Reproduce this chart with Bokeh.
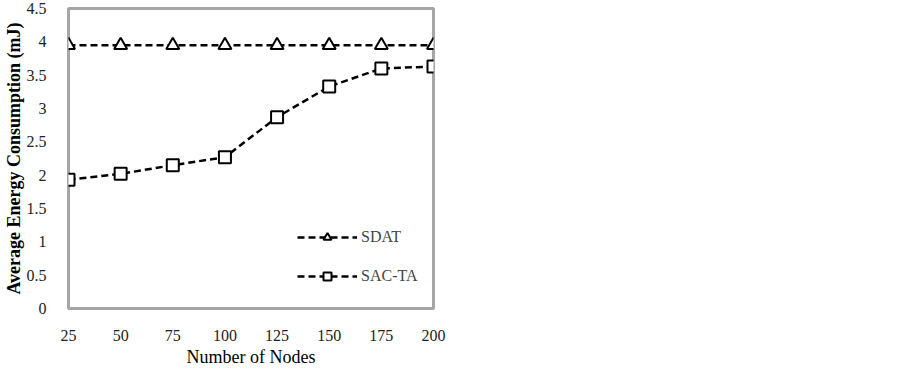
from bokeh.plotting import figure
from bokeh.models import Range1d, FixedTicker, Legend, LegendItem
from bokeh.embed import file_html
from bokeh.resources import INLINE

nodes = [25, 50, 75, 100, 125, 150, 175, 200]
sdat = [3.95, 3.95, 3.95, 3.95, 3.95, 3.95, 3.95, 3.95]
sacta = [1.93, 2.02, 2.15, 2.27, 2.87, 3.33, 3.60, 3.63]
y_ticks = [0, 0.5, 1, 1.5, 2, 2.5, 3, 3.5, 4, 4.5]
y_labels = ["0", "0.5", "1", "1.5", "2", "2.5", "3", "3.5", "4", "4.5"]

FONT = "Liberation Serif"

p = figure(frame_width=365, frame_height=300, output_backend="svg", toolbar_location=None,
           x_range=Range1d(25, 200), y_range=Range1d(0, 4.5),
           min_border_left=59, min_border_right=455, min_border_top=8, min_border_bottom=0)
p.background_fill_color = "white"
p.border_fill_color = "white"
p.outline_line_color = "#a6a6a6"
p.outline_line_width = 3
p.xgrid.visible = False
p.ygrid.visible = False

for ax in (p.xaxis[0], p.yaxis[0]):
    ax.axis_line_color = None
    ax.major_tick_line_color = None
    ax.minor_tick_line_color = None
    ax.major_label_text_font = FONT
    ax.major_label_text_font_size = "16px"
    ax.major_label_text_color = "#222222"
    ax.axis_label_text_font = FONT
    ax.axis_label_text_color = "black"

p.xaxis.ticker = FixedTicker(ticks=nodes)
p.xaxis.major_label_standoff = 15
p.xaxis.axis_label = "Number of Nodes"
p.xaxis.axis_label_text_font_size = "18px"
p.xaxis.axis_label_text_font_style = "normal"
p.xaxis.axis_label_standoff = 3

p.yaxis.ticker = FixedTicker(ticks=y_ticks)
p.yaxis.major_label_overrides = {t: l for t, l in zip(y_ticks, y_labels)}
p.yaxis.major_label_standoff = 16
p.yaxis.axis_label = "Average Energy Consumption (mJ)"
p.yaxis.axis_label_text_font_size = "18px"
p.yaxis.axis_label_text_font_style = "bold"
p.yaxis.axis_label_standoff = 0

l1 = p.line(nodes, sdat, line_color="black", line_width=2.5, line_dash="7 4")
m1 = p.scatter(nodes, sdat, marker="triangle", size=13, fill_color="white",
               line_color="black", line_width=2)
l2 = p.line(nodes, sacta, line_color="black", line_width=2.5, line_dash="7 4")
m2 = p.scatter(nodes, sacta, marker="square", size=12, fill_color="white",
               line_color="black", line_width=2)

legend = Legend(items=[LegendItem(label="SDAT", renderers=[l1, m1]),
                       LegendItem(label="SAC-TA", renderers=[l2, m2])],
                location=(229, 22), glyph_width=60, glyph_height=20,
                spacing=19, label_text_font=FONT, label_text_font_size="16px",
                label_standoff=4, background_fill_alpha=0, border_line_color=None,
                padding=0, margin=0)
p.add_layout(legend, "center")

open("out.html", "w").write(file_html(p, INLINE))
